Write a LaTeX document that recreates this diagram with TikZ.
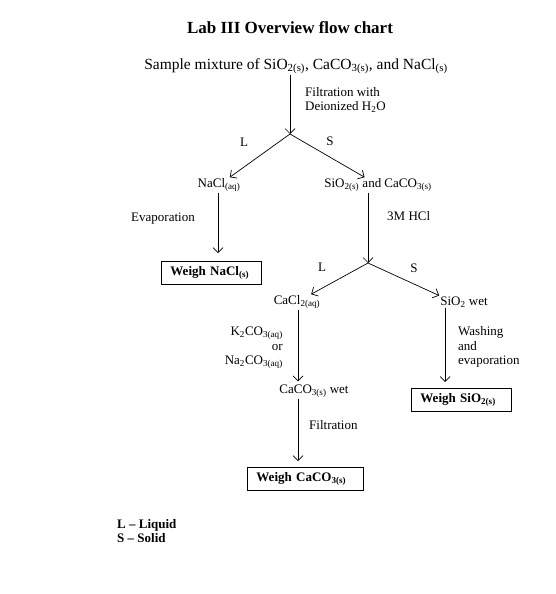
\documentclass[tikz,border=0pt]{standalone}
\usepackage{fontspec}
\setmainfont{Liberation Serif}
\usetikzlibrary{calc}
\usetikzlibrary{positioning}
\usetikzlibrary{arrows.meta}

\tikzset{
  txt/.style={font=\fontsize{13}{14.5}\selectfont, inner sep=1pt},
  weighbox/.style={draw, line width=0.9pt, font=\fontsize{13}{14.5}\selectfont\bfseries, inner xsep=9pt, inner ysep=0pt, minimum height=23pt, anchor=west},
  flow/.style={->, line width=0.7pt},
}

\begin{document}
\begin{tikzpicture}[x=1pt,y=-1pt,>={Straight Barb[length=5pt,width=10pt]}]
    \useasboundingbox (0,0) rectangle (556,594);

    % Title
    \node[font=\fontsize{17}{20}\selectfont\bfseries] (title) at (290,28) {Lab III Overview flow chart};

    % Starting mixture
    \node[txt, font=\fontsize{15.5}{18}\selectfont] (mix) at (296,66) {Sample mixture of SiO\textsubscript{2(s)}, CaCO\textsubscript{3(s)}, and NaCl\textsubscript{(s)}};
    \coordinate (split1) at (290,134);
    \draw[flow] (mix.south -| split1) -- (split1);
    \node[txt, anchor=west, align=left] (filt1) at (304,100) {Filtration with\\Deionized H\textsubscript{2}O};

    % First split
    \node[txt] (nacl) at (219,185) {NaCl\textsubscript{(aq)}};
    \node[txt] (solids) at (378,185) {SiO\textsubscript{2(s)} and CaCO\textsubscript{3(s)}};
    \draw[flow] (split1) -- (nacl);
    \draw[flow] (split1) -- (solids);
    \node[txt] (L1) at (244,142) {L};
    \node[txt] (S1) at (330,141) {S};

    % Liquid branch
    \node[weighbox, text width=82pt] (wnacl) at (161,273) {Weigh NaCl\textsubscript{(s)}};
    \draw[flow, shorten >=8pt] ($(nacl.south)+(-1,0)$) -- ($(nacl.south |- wnacl.north)+(-1,0)$);
    \node[txt] (evap) at (163,219) {Evaporation};

    % Solid branch
    \coordinate (split2) at (368,263);
    \draw[flow] (solids.south -| split2) -- (split2);
    \node[txt, anchor=west] (hcl) at (386,216) {3M HCl};

    % Second split
    \node[txt] (cacl) at (297,302) {CaCl\textsubscript{2(aq)}};
    \node[txt] (sio2wet) at (464,302) {SiO\textsubscript{2} wet};
    \draw[flow] (split2) -- (cacl);
    \draw[flow] (split2) -- (sio2wet.north west);
    \node[txt] (L2) at (322,267) {L};
    \node[txt] (S2) at (414,268) {S};

    % Carbonate precipitation
    \node[txt] (cacowet) at (314,391) {CaCO\textsubscript{3(s)} wet};
    \draw[flow] ($(cacl.south)+(1,0)$) -- ($(cacl.south |- cacowet.north)+(1,-2)$);
    \node[txt, anchor=east, align=right] (carb) at (284,348) {K\textsubscript{2}CO\textsubscript{3(aq)}\\or\\Na\textsubscript{2}CO\textsubscript{3(aq)}};

    % Washing the silica
    \node[weighbox, text width=82pt] (wsio2) at (411,400) {Weigh SiO\textsubscript{2(s)}};
    \draw[flow, shorten >=6pt] ($(sio2wet.south west)+(6,0)$) -- ($(sio2wet.south west |- wsio2.north)+(6,0)$);
    \node[txt, anchor=west, align=left] (wash) at (457,347) {Washing\\and\\evaporation};

    % Filtration of carbonate
    \node[weighbox, text width=98pt] (wcaco) at (247,479) {Weigh CaCO\textsubscript{3(s)}};
    \draw[flow, shorten >=6pt] ($(cacowet.south -| cacl.south)+(1,0)$) -- ($(cacl.south |- wcaco.north)+(1,0)$);
    \node[txt, anchor=west] (filt2) at (308,425) {Filtration};

    % Legend
    \node[txt, font=\fontsize{13}{14}\selectfont\bfseries, anchor=west, align=left] (legend) at (116,531) {L -- Liquid\\S -- Solid};
\end{tikzpicture}
\end{document}
